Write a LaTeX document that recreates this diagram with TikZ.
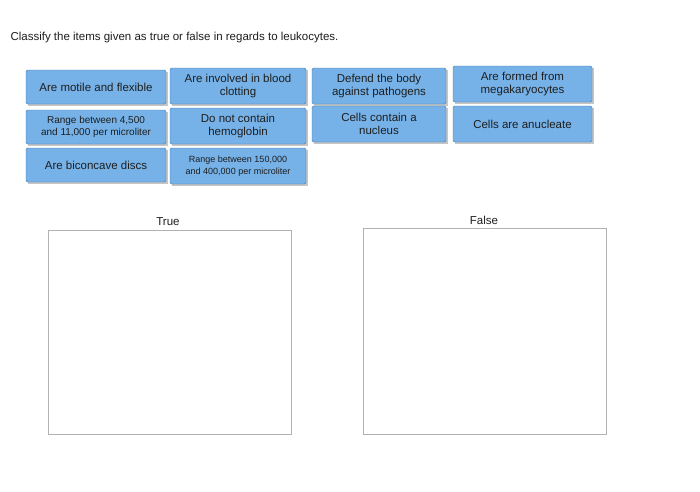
\documentclass[tikz,border=0pt]{standalone}
\usepackage{fontspec}
\setmainfont{Liberation Sans}
\definecolor{cardfill}{RGB}{118,178,232}
\definecolor{cardedge}{RGB}{70,120,170}
\definecolor{txt}{RGB}{30,30,30}
\tikzset{card/.style={draw=cardedge,fill=cardfill,rounded corners=1.5pt,align=center,text=txt,font=\fontsize{11.5}{12.5}\selectfont,inner sep=0pt},
zone/.style={draw=gray!60,fill=white}}
\begin{document}
\begin{tikzpicture}[x=1pt,y=-1pt]
\useasboundingbox[fill=white] (0,0) rectangle (700,491);
\node[anchor=west,text=txt,font=\fontsize{11.5}{13}\selectfont] (title) at (7,38) {Classify the items given as true or false in regards to leukocytes.};
\newcommand\cardat[6]{\fill[gray!45] (#2+2,#3+2) rectangle (#4+2,#5+2);
\node[card,minimum width=#4-#2,minimum height=#5-#3] (#1) at ({(#2+#4)/2},{(#3+#5)/2}) {#6};}
\cardat{a1}{26}{70}{166}{104}{Are motile and flexible}
\cardat{a2}{170}{68}{306}{104}{Are involved in blood\\clotting}
\cardat{a3}{312}{68}{446}{104}{Defend the body\\against pathogens}
\cardat{a4}{453}{66}{592}{102}{Are formed from\\megakaryocytes}
\cardat{b1}{26}{110}{166}{144}{\fontsize{10}{10.5}\selectfont Range between 4,500\\\fontsize{10}{10.5}\selectfont and 11,000 per microliter}
\cardat{b2}{170}{108}{306}{144}{Do not contain\\hemoglobin}
\cardat{b3}{312}{106}{446}{142}{Cells contain a\\nucleus}
\cardat{b4}{453}{106}{592}{142}{Cells are anucleate}
\cardat{c1}{26}{148}{166}{182}{Are biconcave discs}
\cardat{c2}{170}{148}{306}{184}{\fontsize{9}{10}\selectfont Range between 150,000\\\fontsize{9}{10}\selectfont and 400,000 per microliter}
\node[text=txt,font=\fontsize{11.5}{13}\selectfont] (tl) at (168,222) {True};
\node[text=txt,font=\fontsize{11.5}{13}\selectfont] (fl) at (484,220) {False};
\draw[zone] (48,230) rectangle (291,434);
\draw[zone] (363,228) rectangle (606,434);
\end{tikzpicture}
\end{document}
